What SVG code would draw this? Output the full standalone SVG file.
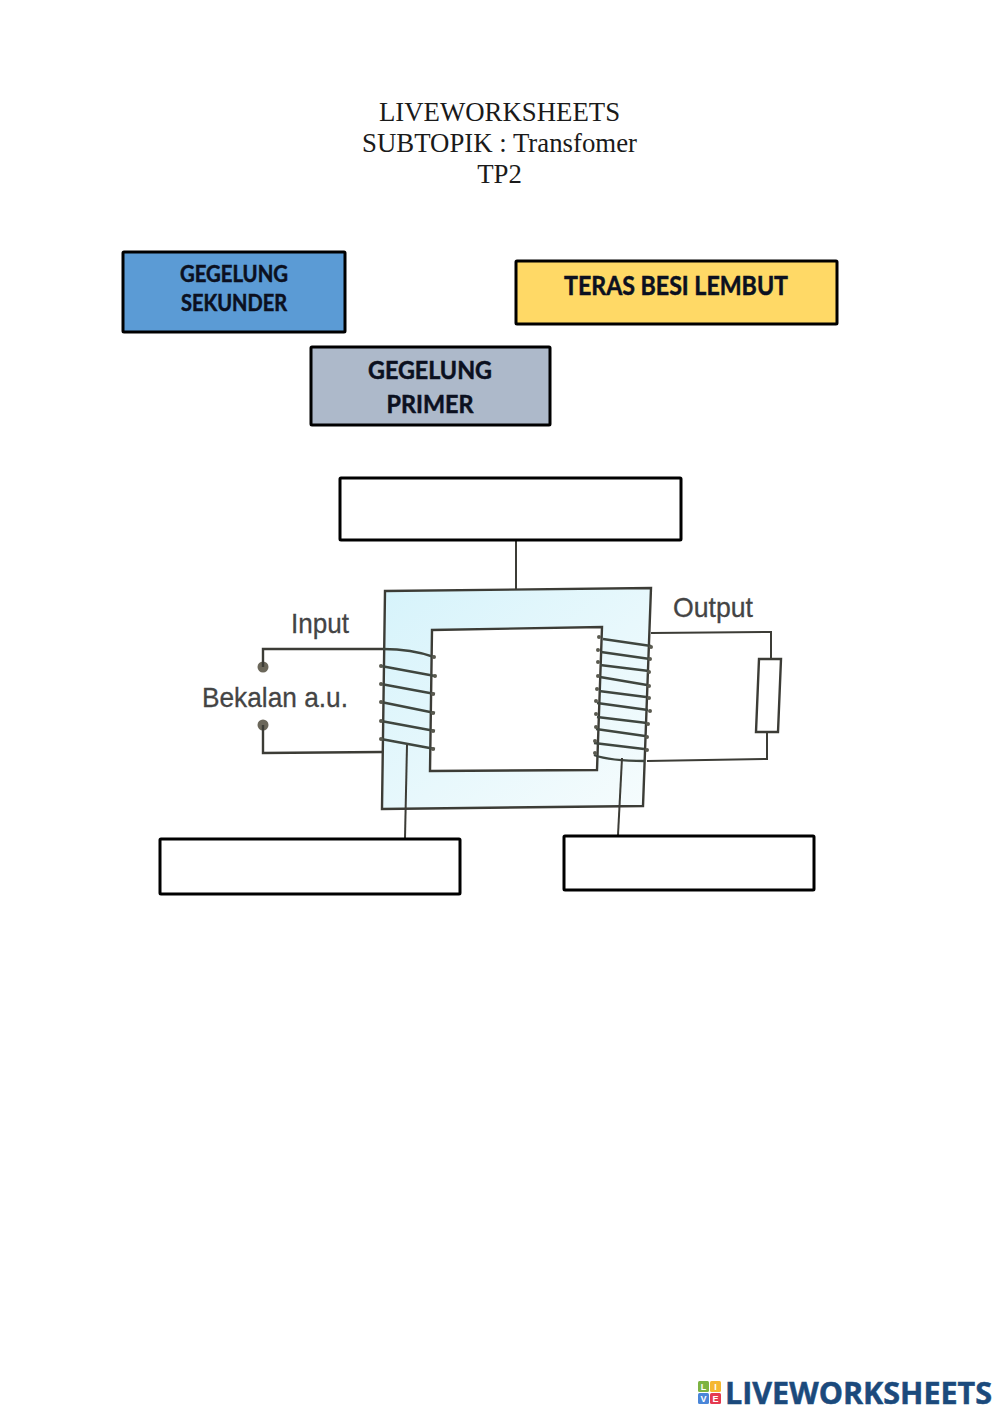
<svg xmlns="http://www.w3.org/2000/svg" width="1000" height="1413" viewBox="0 0 1000 1413">
<style>
.title{font-family:"Liberation Serif",serif;font-size:26.800px;fill:#1a1a1a;text-anchor:middle}
.box{stroke:#000;stroke-width:3}
.lbl{font-family:Lato,"Open Sans",sans-serif;font-weight:700;fill:#0b1020;stroke:#0b1020;stroke-width:0.500;text-anchor:middle}
.w{fill:none;stroke:#3c3c36;stroke-width:2.400}
.thin{fill:none;stroke:#3c3c36;stroke-width:2}
.coil{fill:none;stroke:#3f463f;stroke-width:2.400}
.pic{font-family:"Liberation Sans",sans-serif;font-size:28px;fill:#444;stroke:#444;stroke-width:0.300}
.dot{fill:#6b675a}
.tick{fill:#5a5a50}
.lt{font-family:"Liberation Sans",sans-serif;font-weight:700;font-size:9px;fill:#fff;text-anchor:middle}
</style>
<defs>
<linearGradient id="core" x1="0" y1="0" x2="1" y2="1">
<stop offset="0" stop-color="#d6f3fb"/><stop offset="0.55" stop-color="#e8f8fc"/><stop offset="1" stop-color="#f6fcfd"/>
</linearGradient>
</defs>
<rect width="1000" height="1413" fill="#fff"/>
<g id="title">
<text class="title" x="499.500" y="121">LIVEWORKSHEETS</text>
<text class="title" x="499.500" y="152">SUBTOPIK : Transfomer</text>
<text class="title" x="499.500" y="183">TP2</text>
</g>
<g id="label-sekunder">
<rect class="box" x="123" y="252" width="222" height="80" rx="1" fill="#5b9bd5"/>
<text class="lbl" x="234" y="282" font-size="22" textLength="108" lengthAdjust="spacingAndGlyphs">GEGELUNG</text>
<text class="lbl" x="234" y="311" font-size="22" textLength="106" lengthAdjust="spacingAndGlyphs">SEKUNDER</text>
</g>
<g id="label-teras">
<rect class="box" x="516" y="261" width="321" height="63" rx="1" fill="#ffd966"/>
<text class="lbl" x="676" y="295" font-size="26" textLength="224" lengthAdjust="spacingAndGlyphs">TERAS BESI LEMBUT</text>
</g>
<g id="label-primer">
<rect class="box" x="311" y="347" width="239" height="78" rx="1" fill="#adb9ca"/>
<text class="lbl" x="430" y="379" font-size="25" textLength="124" lengthAdjust="spacingAndGlyphs">GEGELUNG</text>
<text class="lbl" x="430" y="413" font-size="25" textLength="87" lengthAdjust="spacingAndGlyphs">PRIMER</text>
</g>
<g id="core-shape">
<path d="M385 591L651 588L643 806L382 809ZM432 630L430 771L597 770L602 627Z" fill="url(#core)" fill-rule="evenodd" stroke="#3c3c36" stroke-width="2.400"/>
</g>
<g id="primary-coil">
<path class="coil" d="M383 649C405 649 420 652 434 657M381 666L435 676M381 684L435 694M381 702L435 713M381 721L435 731M381 739L435 749"/>
<g class="tick">
<circle cx="381" cy="666" r="2"/><circle cx="381" cy="684" r="2"/><circle cx="381" cy="702" r="2"/><circle cx="381" cy="721" r="2"/><circle cx="381" cy="739" r="2"/>
<circle cx="434" cy="657" r="2"/><circle cx="435" cy="676" r="2"/><circle cx="433" cy="694" r="2"/><circle cx="433" cy="713" r="2"/><circle cx="433" cy="731" r="2"/><circle cx="433" cy="749" r="2"/>
</g>
</g>
<g id="secondary-coil">
<path class="coil" d="M603 639L651 646M601 652L650 659M600 665L649 671M600 677L647 685M599 691L646 697M597 703L648 710M597 717L647 723M596 729L645 736M594 743L644 749M594 755Q610 761 645 761"/>
<g class="tick">
<circle cx="599" cy="637" r="2"/><circle cx="598" cy="650" r="2"/><circle cx="598" cy="662" r="2"/><circle cx="598" cy="676" r="2"/><circle cx="597" cy="689" r="2"/><circle cx="596" cy="701" r="2"/><circle cx="596" cy="714" r="2"/><circle cx="596" cy="727" r="2"/><circle cx="595" cy="741" r="2"/><circle cx="595" cy="753" r="2"/>
<circle cx="651" cy="647" r="2"/><circle cx="650" cy="659" r="2"/><circle cx="649" cy="672" r="2"/><circle cx="649" cy="686" r="2"/><circle cx="649" cy="698" r="2"/><circle cx="650" cy="711" r="2"/><circle cx="648" cy="724" r="2"/><circle cx="647" cy="737" r="2"/><circle cx="647" cy="750" r="2"/>
</g>
</g>
<g id="input-terminals">
<circle class="dot" cx="263" cy="667" r="5.500"/>
<circle class="dot" cx="263" cy="725" r="5.500"/>
</g>
<g id="resistor">
<path d="M759 659L781 659L778 732L756 732Z" fill="#fff" stroke="#3c3c36" stroke-width="2.400"/>
</g>
<g id="connectors">
<path class="w" d="M263 667V649H383"/>
<path class="w" d="M263 725V753L382 752"/>
<path class="thin" d="M651 633L771 632V658"/>
<path class="thin" d="M767 733V759L647 761"/>
<path class="thin" d="M516 541V590"/>
<path class="thin" d="M407 745L405 838"/>
<path class="thin" d="M622 758L618 835"/>
</g>
<g id="picture-labels">
<text class="pic" x="291" y="633" textLength="58" lengthAdjust="spacingAndGlyphs">Input</text>
<text class="pic" x="202" y="707" textLength="146" lengthAdjust="spacingAndGlyphs">Bekalan a.u.</text>
<text class="pic" x="673" y="617" textLength="80" lengthAdjust="spacingAndGlyphs">Output</text>
</g>
<g id="answer-top"><rect class="box" x="340" y="478" width="341" height="62" rx="1" fill="#fff"/></g>
<g id="answer-left"><rect class="box" x="160" y="839" width="300" height="55" rx="1" fill="#fff"/></g>
<g id="answer-right"><rect class="box" x="564" y="836" width="250" height="54" rx="1" fill="#fff"/></g>
<g id="logo">
<rect x="698" y="1381" width="11" height="11" rx="1.500" fill="#7cb342"/>
<rect x="710" y="1381" width="11" height="11" rx="1.500" fill="#f5b731"/>
<rect x="698" y="1393" width="11" height="11" rx="1.500" fill="#4a86d8"/>
<rect x="710" y="1393" width="11" height="11" rx="1.500" fill="#e53950"/>
<text class="lt" x="703.500" y="1390">L</text>
<text class="lt" x="715.500" y="1390">I</text>
<text class="lt" x="703.500" y="1402">V</text>
<text class="lt" x="715.500" y="1402">E</text>
<text x="725" y="1403.500" font-family="'Open Sans','Liberation Sans',sans-serif" font-weight="700" font-size="30" fill="#1b4a7c" stroke="#1b4a7c" stroke-width="0.500" textLength="267" lengthAdjust="spacingAndGlyphs">LIVEWORKSHEETS</text>
</g>
</svg>
